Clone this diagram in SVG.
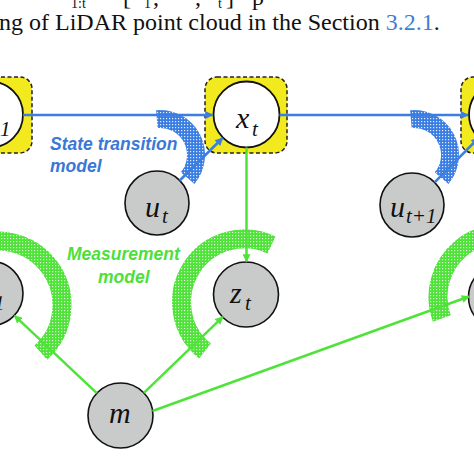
<svg xmlns="http://www.w3.org/2000/svg" width="474" height="474" viewBox="0 0 474 474">
<defs>
<pattern id="hb" width="3" height="3" patternUnits="userSpaceOnUse"><rect width="3" height="3" fill="#3b7ee2"/><rect x="1" y="1" width="1.2" height="1.2" fill="#e2ebfb"/></pattern>
<pattern id="hg" width="3" height="3" patternUnits="userSpaceOnUse"><rect width="3" height="3" fill="#4fe33a"/><rect x="1" y="1" width="1.2" height="1.2" fill="#dbf8d4"/></pattern>
<marker id="ab" viewBox="0 0 10 10" refX="9" refY="5" markerWidth="9" markerHeight="8" markerUnits="userSpaceOnUse" orient="auto"><path d="M0,0 L10,5 L0,10 z" fill="#3b7ee2"/></marker>
<marker id="ag" viewBox="0 0 10 10" refX="9" refY="5" markerWidth="9" markerHeight="8" markerUnits="userSpaceOnUse" orient="auto"><path d="M0,0 L10,5 L0,10 z" fill="#4fe33a"/></marker>
</defs>
<style>
.box{fill:#f2ea1e;stroke:#222;stroke-width:1.5;stroke-dasharray:4 2.5}
.xn{fill:#fff;stroke:#111;stroke-width:1.8}
.gn{fill:#c9cbcb;stroke:#111;stroke-width:1.6}
.lbl{font-family:"Liberation Serif","Times New Roman",serif;font-style:italic;font-size:30px;fill:#111}
.sub{font-size:21px}
.cb{fill:none;stroke:#3b7ee2;stroke-width:2.5}
.cg{fill:none;stroke:#4fe33a;stroke-width:2.5}
.arcb{fill:none;stroke:url(#hb);stroke-width:18}
.arcg{fill:none;stroke:url(#hg);stroke-width:19}
.note{font-family:"Liberation Sans",Arial,sans-serif;font-weight:bold;font-style:italic;font-size:17.5px}
.hdr{font-family:"Liberation Serif","Times New Roman",serif;font-size:24px;fill:#111}
</style>
<rect width="474" height="474" fill="#fff"/>

<g id="header">
<text class="hdr" y="5"><tspan x="71" y="8" font-size="14">1:t</tspan><tspan x="123" y="5">[</tspan><tspan x="144" y="8" font-size="14">1</tspan><tspan x="153" y="5">,</tspan><tspan x="195" y="5">,</tspan><tspan x="218" y="8" font-size="14">t</tspan><tspan x="226" y="5">]</tspan><tspan x="252" y="5">p</tspan></text>
<text class="hdr" x="-1" y="30">ng of LiDAR point cloud in the Section <tspan fill="#3f7fd1">3.2.1</tspan>.</text>
</g>

<g id="factors">
<path class="arcb" d="M 156.9 119.1 A 36 36 0 0 1 187.6 178.1"/>
<path class="arcb" d="M 410.9 119.1 A 36 36 0 0 1 441.6 178.1"/>
<path class="arcg" d="M -34 249.6 A 64 64 0 0 1 40.8 352.6"/>
<path class="arcg" d="M 271.5 245 A 63 63 0 0 0 205 351"/>
<path class="arcg" d="M 532.5 242.4 A 63 63 0 0 0 441.8 318.5"/>
</g>

<g id="node-x-t-1">
<rect class="box" x="-50" y="77" width="82" height="76" rx="12"/>
<circle class="xn" cx="-10" cy="114.5" r="33"/>
<text class="lbl" x="-42" y="128">x<tspan class="sub" x="-20" y="136">t−1</tspan></text>
</g>
<g id="node-x-t">
<rect class="box" x="205" y="77" width="82" height="76" rx="12"/>
<circle class="xn" cx="246.5" cy="114.5" r="33"/>
<text class="lbl" x="236" y="128">x<tspan class="sub" x="252" y="136">t</tspan></text>
</g>
<g id="node-x-t1">
<rect class="box" x="461" y="77" width="82" height="76" rx="12"/>
<circle class="xn" cx="502" cy="114.5" r="33"/>
</g>
<g id="node-u-t">
<circle class="gn" cx="157" cy="203" r="32"/>
<text class="lbl" x="145" y="217">u<tspan class="sub" x="162" y="223">t</tspan></text>
</g>
<g id="node-u-t1">
<circle class="gn" cx="412" cy="205" r="32"/>
<text class="lbl" x="390" y="217">u<tspan class="sub" x="406" y="223">t+1</tspan></text>
</g>
<g id="node-z-t-1">
<circle class="gn" cx="-9" cy="293.5" r="32"/>
<text class="lbl" x="-40" y="303">z<tspan class="sub" x="-26" y="310">t−1</tspan></text>
</g>
<g id="node-z-t">
<circle class="gn" cx="246" cy="294.5" r="32.5"/>
<text class="lbl" x="230" y="303">z<tspan class="sub" x="245" y="310">t</tspan></text>
</g>
<g id="node-z-t1">
<circle class="gn" cx="501" cy="297" r="32.5"/>
</g>
<g id="node-m">
<circle class="gn" cx="120.5" cy="415.5" r="32.5"/>
<text class="lbl" x="109" y="423">m</text>
</g>

<g id="connectors">
<path class="cb" d="M 23 115 L 212.5 115" marker-end="url(#ab)"/>
<path class="cb" d="M 279.5 115 L 468 115" marker-end="url(#ab)"/>
<path class="cb" d="M 179.7 180.5 L 222.6 138" marker-end="url(#ab)"/>
<path class="cb" d="M 434.6 182.3 L 478.7 137.9" marker-end="url(#ab)"/>
<path class="cg" d="M 246.5 147.5 L 246.5 261.5" marker-end="url(#ag)"/>
<path class="cg" d="M 96.8 393.2 L 14.5 315.7" marker-end="url(#ag)"/>
<path class="cg" d="M 143.9 392.9 L 222.8 316.9" marker-end="url(#ag)"/>
<path class="cg" d="M 152.5 411 L 469 296.5" marker-end="url(#ag)"/>
</g>

<g id="labels">
<text class="note" fill="#3a78d8"><tspan x="50" y="150">State transition</tspan><tspan x="50" y="172">model</tspan></text>
<text class="note" fill="#4fdf3a"><tspan x="67" y="260">Measurement</tspan><tspan x="98" y="283">model</tspan></text>
</g>
</svg>
